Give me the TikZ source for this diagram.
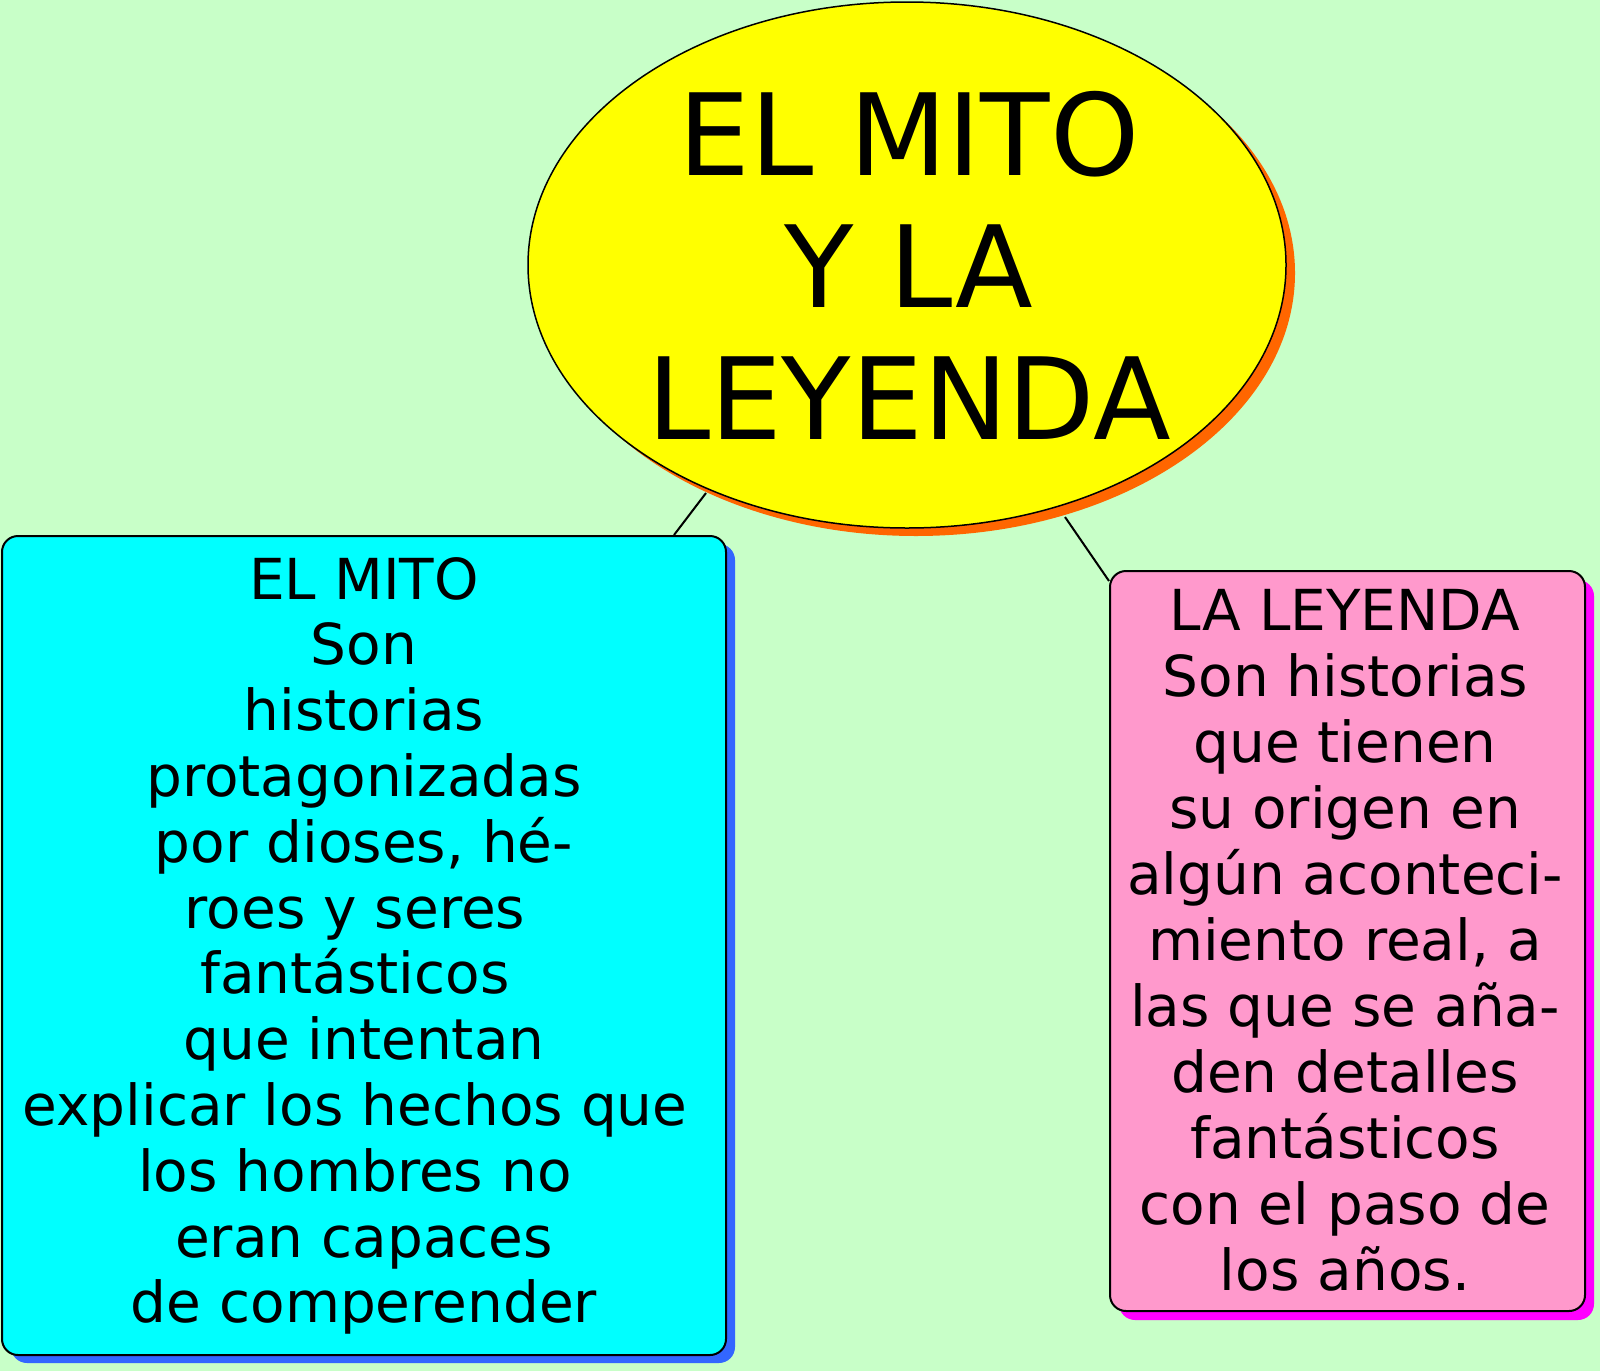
\documentclass[tikz,border=0pt]{standalone}
\usepackage{fontspec}
\setmainfont{DejaVu Sans}
\usetikzlibrary{shapes.geometric,shadows}
\definecolor{bggreen}{RGB}{200,255,200}
\definecolor{titleyellow}{RGB}{255,255,0}
\definecolor{titleshadow}{RGB}{255,102,0}
\definecolor{mitofill}{RGB}{0,255,255}
\definecolor{mitoshadow}{RGB}{51,102,255}
\definecolor{leyfill}{RGB}{255,153,204}
\definecolor{leyshadow}{RGB}{255,0,255}
\pgfdeclarelayer{bglayer}
\pgfdeclarelayer{linelayer}
\pgfsetlayers{bglayer,linelayer,main}
\begin{document}
\begin{tikzpicture}[x=1pt,y=-1pt,
  boxtext/.style={anchor=base, inner sep=0pt, font=\fontsize{56.5}{66}\selectfont},
  titletext/.style={anchor=base, inner sep=0pt, font=\fontsize{113.5}{132}\selectfont},
  connector/.style={draw=black, line width=2pt},
  titleshape/.style={ellipse, draw=black, line width=1.5pt, fill=titleyellow,
    minimum width=758pt, minimum height=526pt, inner sep=0pt,
    general shadow={fill=titleshadow, draw=none, shadow xshift=9pt, shadow yshift=-8pt}},
  boxshape/.style={rectangle, rounded corners=16pt, draw=black, line width=2pt, inner sep=0pt},
  mitobox/.style={boxshape, fill=mitofill, minimum width=724pt, minimum height=819pt,
    general shadow={fill=mitoshadow, draw=none, shadow xshift=9pt, shadow yshift=-8pt}},
  leybox/.style={boxshape, fill=leyfill, minimum width=475pt, minimum height=740pt,
    general shadow={fill=leyshadow, draw=none, shadow xshift=9pt, shadow yshift=-9pt}}
]
\begin{pgfonlayer}{bglayer}
\fill[bggreen] (0,0) rectangle (1600,1371);
\end{pgfonlayer}
\useasboundingbox (0,0) rectangle (1600,1371);

\node[titleshape] (title) at (907,265) {};
\node[mitobox] (mito) at (364,945.5) {};
\node[leybox] (leyenda) at (1347.5,941) {};

\begin{pgfonlayer}{linelayer}
\draw[connector] ([shift={(-201,228)}]title.center) -- ([shift={(673,0)}]mito.north west);
\draw[connector] ([shift={(158,252)}]title.center) -- ([shift={(0,11)}]leyenda.north west);
\end{pgfonlayer}

\foreach \y/\t [count=\i] in {175/{EL MITO}, 307/{Y LA}, 439/{LEYENDA}}
  \node[titletext] (tt\i) at (909,\y) {\t};

\foreach \x/\t [count=\i] in {364/{EL MITO}, 364/{Son}, 364/{historias}, 364/{protagonizadas},
  364/{por dioses, hé-}, 355/{roes y seres}, 355/{fantásticos}, 364/{que intentan},
  355/{explicar los hechos que}, 355/{los hombres no}, 364/{eran capaces}, 364/{de comperender}}
  \node[boxtext] (lt\i) at (\x,{599+65.8*(\i-1)}) {\t};

\foreach \t [count=\i] in {{LA LEYENDA}, {Son historias}, {que tienen}, {su origen en},
  {algún aconteci-}, {miento real, a}, {las que se aña-}, {den detalles}, {fantásticos},
  {con el paso de}, {los años.}}
  \node[boxtext] (rt\i) at (1345,{630+66*(\i-1)}) {\t};
\end{tikzpicture}
\end{document}
